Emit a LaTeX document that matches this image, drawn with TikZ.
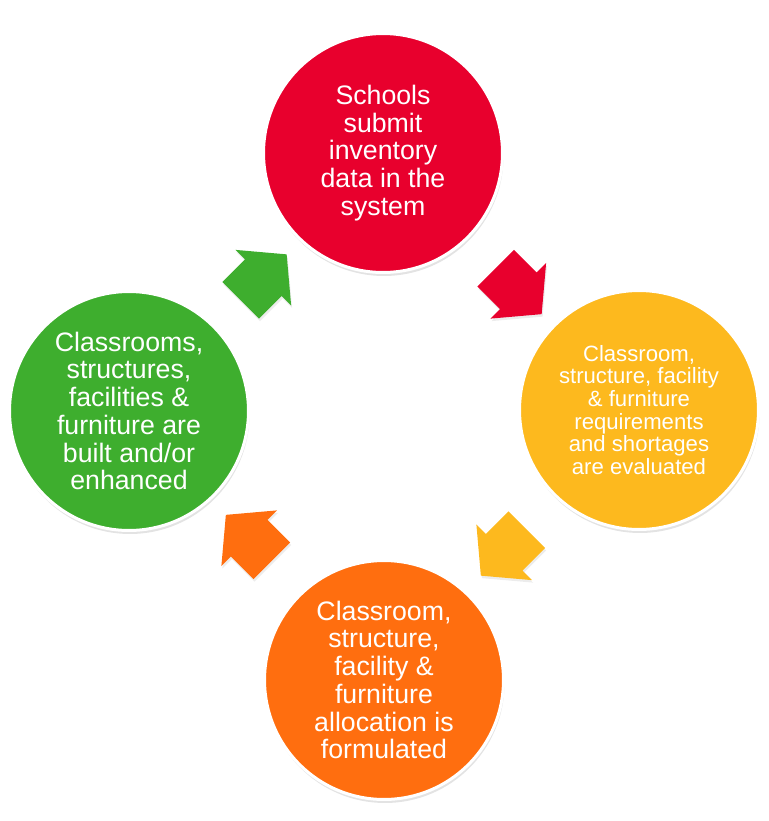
\documentclass[tikz,border=0pt]{standalone}
\usepackage{fontspec}
\setmainfont{Liberation Sans}
\usetikzlibrary{calc,shapes.arrows,shadows}
\definecolor{stagered}{RGB}{232,0,45}
\definecolor{stageyellow}{RGB}{253,185,30}
\definecolor{stageorange}{RGB}{255,110,15}
\definecolor{stagegreen}{RGB}{62,174,46}
\begin{document}
\begin{tikzpicture}[x=0.02cm,y=-0.02cm]
\tikzstyle{stage}=[circle,draw=white,line width=0.06cm,minimum size=4.78cm,inner sep=0pt,align=center,text=white,font=\fontsize{15.2}{15.8}\selectfont,drop shadow={shadow xshift=0.02cm,shadow yshift=-0.07cm,opacity=0.22}]
\tikzstyle{turn}=[single arrow,single arrow tip angle=100,single arrow head extend=0.27cm,single arrow head indent=0pt,minimum height=1.3cm,inner xsep=0pt,inner ysep=0.51cm,drop shadow={shadow xshift=0.02cm,shadow yshift=-0.05cm,opacity=0.15}]
\useasboundingbox (0,0) rectangle (768,821);
\node[stage,fill=stagered] (1) at (383, 153) {Schools\\submit\\inventory\\data in the\\system};
\node[stage,fill=stageyellow,font=\fontsize{12.6}{12.9}\selectfont] (2) at (639, 410) {Classroom,\\structure, facility\\\& furniture\\requirements\\and shortages\\are evaluated};
\node[stage,fill=stageorange] (3) at (384, 680) {Classroom,\\structure,\\facility \&\\furniture\\allocation is\\formulated};
\node[stage,fill=stagegreen] (4) at (129, 411) {Classrooms,\\structures,\\facilities \&\\furniture are\\built and/or\\enhanced};
\node[turn,fill=stagered,rotate=-45] (a1) at ($(1)!0.5!(2)+(0,2)$) {};
\node[turn,fill=stageyellow,rotate=-135] (a2) at ($(2)!0.5!(3)$) {};
\node[turn,fill=stageorange,rotate=135] (a3) at ($(3)!0.5!(4)$) {};
\node[turn,fill=stagegreen,rotate=45] (a4) at ($(4)!0.5!(1)+(0,3)$) {};
\end{tikzpicture}
\end{document}
